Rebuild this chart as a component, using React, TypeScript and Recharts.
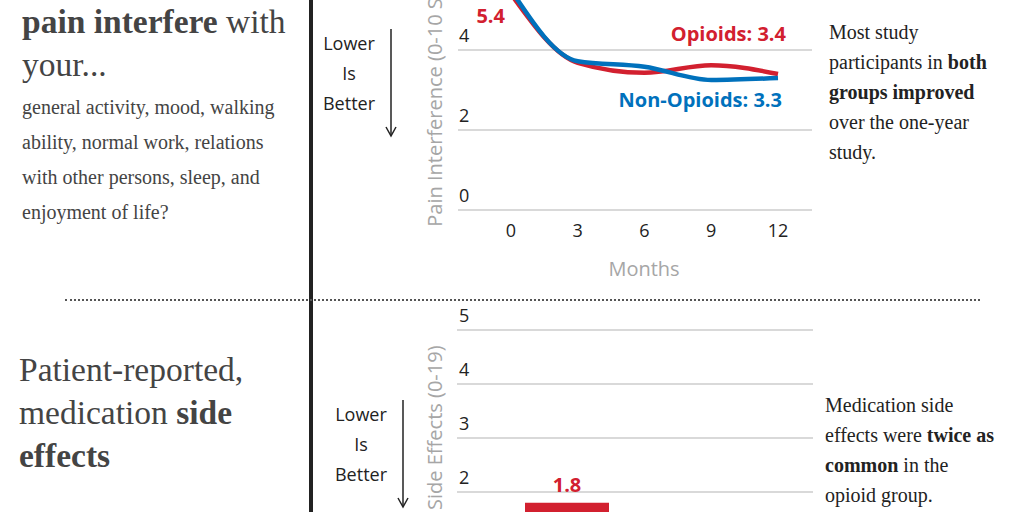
import React from "react";
import {
  Bar,
  BarChart,
  CartesianGrid,
  Cell,
  LabelList,
  Line,
  LineChart,
  XAxis,
  YAxis,
} from "recharts";

const RED = "#d2202f";
const BLUE = "#0071bc";
const GRID = "#d9d9d9";
const AXIS_GREY = "#a6a6a6";
const INK = "#222";
const SANS = "'Open Sans', sans-serif";
const SERIF = "'Liberation Serif', 'Times New Roman', serif";

// pain interference over the year (0-10 scale)
const months = [0, 3, 6, 9, 12];
const opioidScores = [5.4, 3.68, 3.43, 3.62, 3.4];
const nonOpioidScores = [5.5, 3.72, 3.58, 3.25, 3.3];
const painTicks = [0, 2, 4, 6];

// medication side effects (0-19)
const sideEffectGroups = ["Opioids", "Non-Opioids"];
const sideEffectCounts = [1.8, 0.9];
const sideEffectColors = [RED, BLUE];
const sideEffectTicks = [0, 1, 2, 3, 4, 5];

const painData = months.map((m, i) => ({
  month: m,
  opioids: opioidScores[i],
  nonOpioids: nonOpioidScores[i],
}));

const sideData = sideEffectGroups.map((g, i) => ({
  group: g,
  count: sideEffectCounts[i],
}));

function YTick({ y, payload }: any) {
  return (
    <text x={59} y={y - 8} fontSize={18} fill={INK} fontFamily={SANS}>
      {payload.value}
    </text>
  );
}

function MonthTick({ x, payload }: any) {
  return (
    <text x={x} y={297} textAnchor="middle" fontSize={18} fill={INK} fontFamily={SANS}>
      {payload.value}
    </text>
  );
}

function axisTitle(text: string, cx: number, cy: number) {
  return (
    <text
      x={cx}
      y={cy}
      transform={`rotate(-90, ${cx}, ${cy})`}
      textAnchor="middle"
      dominantBaseline="central"
      fontSize={20}
      fill={AXIS_GREY}
      fontFamily={SANS}
    >
      {text}
    </text>
  );
}

const labelStyle = { fontSize: 20, fontWeight: 700, fontFamily: SANS };

function opioidLabel(p: any) {
  const { x, y, value, index } = p;
  if (index === 0)
    return (
      <text x={x - 6} y={y + 29} textAnchor="end" fill={RED} style={labelStyle}>
        {value}
      </text>
    );
  if (index === months.length - 1)
    return (
      <text x={x + 8} y={y - 33} textAnchor="end" fill={RED} style={labelStyle}>
        {`Opioids: ${value}`}
      </text>
    );
  return null;
}

function nonOpioidLabel(p: any) {
  const { x, y, value, index } = p;
  if (index === months.length - 1)
    return (
      <text x={x + 4} y={y + 29} textAnchor="end" fill={BLUE} style={labelStyle}>
        {`Non-Opioids: ${value}`}
      </text>
    );
  return null;
}

function barLabel(p: any) {
  const { x, y, width, value, index } = p;
  return (
    <text
      x={x + width / 2}
      y={y - 11}
      textAnchor="middle"
      fill={sideEffectColors[index]}
      style={labelStyle}
    >
      {value}
    </text>
  );
}

function LowerIsBetter({ left, top, arrowX }: { left: number; top: number; arrowX: number }) {
  return (
    <>
      <div
        style={{
          position: "absolute",
          left,
          top,
          width: 70,
          textAlign: "center",
          fontFamily: SANS,
          fontSize: 18,
          lineHeight: "30px",
          color: INK,
        }}
      >
        Lower
        <br />
        Is
        <br />
        Better
      </div>
      <svg
        style={{ position: "absolute", left: arrowX - 8, top: top + 1 }}
        width={16}
        height={110}
      >
        <line x1={8} y1={0} x2={8} y2={106} stroke={INK} strokeWidth={1.5} />
        <polyline points="3,98 8,107 13,98" fill="none" stroke={INK} strokeWidth={1.5} />
      </svg>
    </>
  );
}

const serifBlock = (color: string): React.CSSProperties => ({
  position: "absolute",
  fontFamily: SERIF,
  color,
  whiteSpace: "nowrap",
});

export default function App() {
  return (
    <div
      style={{
        position: "fixed",
        left: 0,
        top: 0,
        width: 1024,
        height: 512,
        overflow: "hidden",
        background: "#fff",
      }}
    >
      {/* left column text */}
      <div style={{ ...serifBlock("#444"), left: 22, top: 0, fontSize: 33.5, lineHeight: "43px" }}>
        <b>pain interfere</b> with
        <br />
        your...
      </div>
      <div style={{ ...serifBlock("#444"), left: 22, top: 90, fontSize: 20, lineHeight: "35px" }}>
        general activity, mood, walking
        <br />
        ability, normal work, relations
        <br />
        with other persons, sleep, and
        <br />
        enjoyment of life?
      </div>
      <div style={{ ...serifBlock("#444"), left: 19, top: 348, fontSize: 33.5, lineHeight: "43px" }}>
        Patient-reported,
        <br />
        medication <b>side</b>
        <br />
        <b>effects</b>
      </div>

      {/* right column notes */}
      <div style={{ ...serifBlock(INK), left: 829, top: 17, fontSize: 20, lineHeight: "30px" }}>
        Most study
        <br />
        participants in <b>both</b>
        <br />
        <b>groups improved</b>
        <br />
        over the one-year
        <br />
        study.
      </div>
      <div style={{ ...serifBlock(INK), left: 825, top: 390, fontSize: 20, lineHeight: "30px" }}>
        Medication side
        <br />
        effects were <b>twice as</b>
        <br />
        <b>common</b> in the
        <br />
        opioid group.
      </div>

      {/* dividers */}
      <div style={{ position: "absolute", left: 309, top: 0, width: 4, height: 512, background: INK }} />
      <div
        style={{
          position: "absolute",
          left: 65,
          top: 299,
          width: 915,
          borderTop: "2px dotted #555",
        }}
      />

      <LowerIsBetter left={314} top={28} arrowX={391} />
      <LowerIsBetter left={326} top={399} arrowX={403} />

      {/* pain interference line chart */}
      <div style={{ position: "absolute", left: 400, top: -60 }}>
        <LineChart
          width={430}
          height={350}
          data={painData}
          margin={{ top: 30, right: 18, bottom: 0, left: 0 }}
        >
          <CartesianGrid vertical={false} stroke={GRID} strokeWidth={2} />
          <XAxis
            dataKey="month"
            type="number"
            domain={[0, 12]}
            ticks={months}
            padding={{ left: 53, right: 34 }}
            height={80}
            axisLine={false}
            tickLine={false}
            tick={<MonthTick />}
            label={{
              content: () => (
                <text x={244} y={336} textAnchor="middle" fontSize={20} fill={AXIS_GREY} fontFamily={SANS}>
                  Months
                </text>
              ),
            }}
          />
          <YAxis
            domain={[0, 6]}
            ticks={painTicks}
            width={58}
            axisLine={false}
            tickLine={false}
            tick={<YTick />}
            label={{ content: () => axisTitle("Pain Interference (0-10 Scale)", 34, 151) }}
          />
          <Line
            type="monotone"
            dataKey="opioids"
            stroke={RED}
            strokeWidth={4.5}
            dot={false}
            isAnimationActive={false}
          >
            <LabelList dataKey="opioids" content={opioidLabel} />
          </Line>
          <Line
            type="monotone"
            dataKey="nonOpioids"
            stroke={BLUE}
            strokeWidth={4.5}
            dot={false}
            isAnimationActive={false}
          >
            <LabelList dataKey="nonOpioids" content={nonOpioidLabel} />
          </Line>
        </LineChart>
      </div>

      {/* side effects bar chart */}
      <div style={{ position: "absolute", left: 400, top: 300 }}>
        <BarChart
          width={430}
          height={340}
          data={sideData}
          margin={{ top: 30, right: 17, bottom: 40, left: 0 }}
        >
          <CartesianGrid vertical={false} stroke={GRID} strokeWidth={2} />
          <XAxis dataKey="group" hide padding={{ left: 44, right: 48 }} />
          <YAxis
            domain={[0, 5]}
            ticks={sideEffectTicks}
            width={57}
            axisLine={false}
            tickLine={false}
            tick={<YTick />}
            label={{ content: () => axisTitle("Number of Side Effects (0-19)", 34, 181) }}
          />
          <Bar dataKey="count" barSize={84} isAnimationActive={false}>
            {sideData.map((d, i) => (
              <Cell key={d.group} fill={sideEffectColors[i]} />
            ))}
            <LabelList dataKey="count" content={barLabel} />
          </Bar>
        </BarChart>
      </div>
    </div>
  );
}
